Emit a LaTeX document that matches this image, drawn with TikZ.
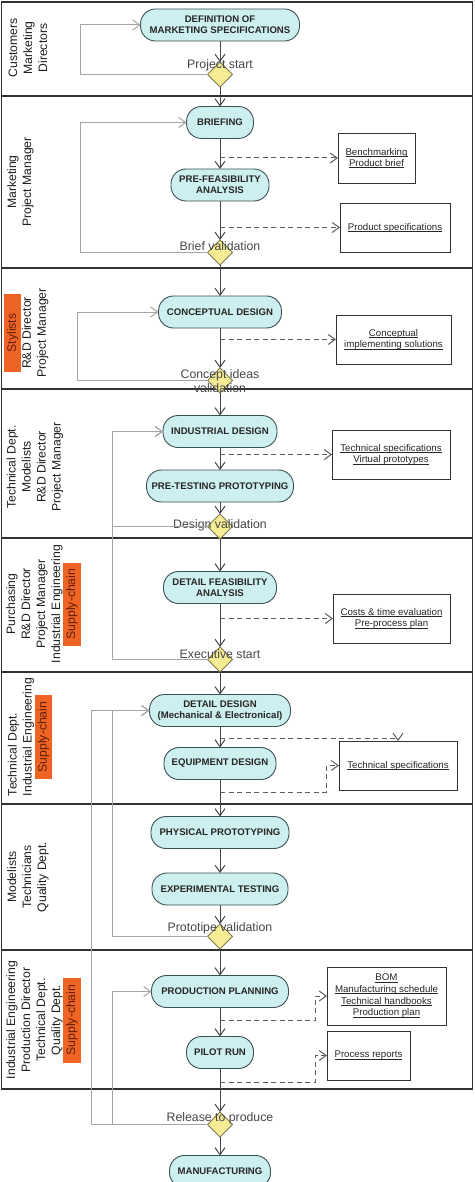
\documentclass[tikz,border=0pt]{standalone}
\usepackage{fontspec}
\setmainfont{Liberation Sans}
\usepackage{xcolor}
\usepackage{tikz}
\usetikzlibrary{shapes.geometric, arrows.meta, positioning}

\definecolor{actfill}{RGB}{206,239,240}
\definecolor{actline}{RGB}{60,82,82}
\definecolor{decfill}{RGB}{246,236,150}
\definecolor{decline}{RGB}{125,120,80}
\definecolor{hlorange}{RGB}{240,100,35}
\definecolor{hltext}{RGB}{95,30,10}
\definecolor{laneline}{RGB}{50,50,50}
\definecolor{flowgrey}{RGB}{70,70,70}
\definecolor{backgrey}{RGB}{165,165,165}
\definecolor{dashgrey}{RGB}{95,95,95}

\newcommand{\docline}[1]{\setbox0=\hbox{#1}\rlap{\rule[-1.4pt]{\wd0}{0.55pt}}\box0}
\newcommand{\hlrole}[2]{\smash{\colorbox{hlorange}{\makebox[#1]{\color{hltext}#2}}}\vphantom{Ag}}
\setlength{\fboxsep}{3pt}

\tikzstyle{activity} = [rectangle, rounded corners=15pt,
  minimum height=32pt, inner xsep=4pt, inner ysep=2pt, outer sep=0pt,
  align=center, draw=actline, line width=0.9pt, fill=actfill,
  text=black!85, font=\fontsize{9.6}{11}\selectfont\bfseries]
\tikzstyle{decision} = [diamond, minimum width=25pt, minimum height=25pt,
  inner sep=0pt, outer sep=0pt, draw=decline, line width=0.8pt, fill=decfill]
\tikzstyle{docbox} = [rectangle, draw=black!80, line width=0.8pt, outer sep=0pt,
  fill=white, align=center, text=black!85,
  font=\fontsize{9.7}{11.6}\selectfont]
\tikzstyle{flowarrow} = [draw=flowgrey, line width=1pt,
  -{Straight Barb[length=7pt,width=10pt]}]

\begin{document}

\begin{tikzpicture}[x=1pt, y=-1pt,
  lanetext/.style={rotate=90, align=center, inner sep=0pt,
    text=black!88, font=\fontsize{12.2}{15}\selectfont},
  declabel/.style={align=center, inner sep=0pt, text=black!72,
    font=\fontsize{12.3}{14}\selectfont},
  backflow/.style={draw=backgrey, line width=1pt,
    -{Straight Barb[length=7pt,width=10pt]}},
  docflow/.style={draw=dashgrey, line width=1pt, dash pattern=on 5pt off 3.5pt,
    -{Straight Barb[length=7pt,width=10pt]}}]

\fill[white] (0,0) rectangle (474,1182);
\useasboundingbox (0,0) rectangle (474,1182);

% swimlanes
\foreach \ytop/\ybot in {2/96, 96/268, 268/389, 389/538, 538/672, 672/804, 804/950, 950/1089}
  \draw[draw=laneline, line width=1.6pt] (1.5,\ytop) rectangle (472.5,\ybot);
\draw[draw=laneline, line width=2.6pt] (1.5,2) -- (472.5,2);

% lane headers
\node (hdcust) [lanetext] at (28,48) {Customers\\Marketing\\Directors};
\node (hdmkt) [lanetext] at (20.5,182) {Marketing\\Project Manager};
\node (hdconc) [lanetext] at (28,333)
  {\hlrole{72pt}{Stylists}\\R\&D Director\\Project Manager};
\node (hdind) [lanetext] at (35,467)
  {Technical Dept.\\Modelists\\R\&D Director\\Project Manager};
\node (hdfeas) [lanetext] at (42,604)
  {Purchasing\\R\&D Director\\Project Manager\\Industrial Engineering\\\hlrole{77pt}{Supply-chain}};
\node (hddet) [lanetext] at (28.5,737)
  {\rlap{Technical Dept.}\hphantom{Industrial Engineering}\\Industrial Engineering\\\hlrole{78pt}{Supply-chain}};
\node (hdproto) [lanetext] at (28,877) {Modelists\\Technicians\\Quality Dept.};
\node (hdprod) [lanetext] at (42,1020)
  {Industrial Engineering\\Production Director\\Technical Dept.\\Quality Dept.\\\hlrole{79pt}{Supply-chain}};

% activities and decisions
\node (def) [activity, minimum width=159pt] at (220,25)
  {DEFINITION OF\\MARKETING SPECIFICATIONS};
\node (pstart) [decision, below=21pt of def] {};
\node (brief) [activity, minimum width=67pt, below=19.5pt of pstart] {BRIEFING};
\node (prefeas) [activity, minimum width=98pt, below=30.5pt of brief]
  {PRE-FEASIBILITY\\ANALYSIS};
\node (bvalid) [decision, below=39pt of prefeas] {};
\node (concept) [activity, minimum width=123pt, below=31pt of bvalid]
  {CONCEPTUAL DESIGN};
\node (civalid) [decision, below=40pt of concept] {};
\node (indus) [activity, minimum width=114pt, below=22.5pt of civalid]
  {INDUSTRIAL DESIGN};
\node (pretest) [activity, minimum width=147pt, below=22.5pt of indus]
  {PRE-TESTING PROTOTYPING};
\node (dvalid) [decision, below=12pt of pretest] {};
\node (detfeas) [activity, minimum width=113pt, below=32.5pt of dvalid]
  {DETAIL FEASIBILITY\\ANALYSIS};
\node (exstart) [decision, below=43.5pt of detfeas] {};
\node (detdes) [activity, minimum width=141pt, below=22.5pt of exstart]
  {DETAIL DESIGN\\(Mechanical \& Electronical)};
\node (equip) [activity, minimum width=112pt, below=21pt of detdes]
  {EQUIPMENT DESIGN};
\node (physical) [activity, minimum width=138pt, below=37pt of equip]
  {PHYSICAL PROTOTYPING};
\node (exper) [activity, minimum width=136pt, below=24.5pt of physical]
  {EXPERIMENTAL TESTING};
\node (pvalid) [decision, below=19pt of exper] {};
\node (pplan) [activity, minimum width=137pt, below=26.5pt of pvalid]
  {PRODUCTION PLANNING};
\node (pilot) [activity, minimum width=67pt, below=29pt of pplan] {PILOT RUN};
\node (release) [decision, below=43.5pt of pilot] {};
\node (manuf) [activity, minimum width=101pt, below=18.5pt of release]
  {MANUFACTURING};

% decision labels
\node (lpstart) [declabel] at ([yshift=9pt]pstart.center) {Project start};
\node (lbvalid) [declabel] at ([yshift=6pt]bvalid.center) {Brief validation};
\node (lcivalid) [declabel] at ([yshift=-1pt]civalid.center) {Concept ideas\\validation};
\node (ldvalid) [declabel] at ([yshift=1pt]dvalid.center) {Design validation};
\node (lexstart) [declabel] at ([yshift=5pt]exstart.center) {Executive start};
\node (lpvalid) [declabel] at ([yshift=8pt]pvalid.center) {Prototipe validation};
\node (lrelease) [declabel] at ([yshift=6pt]release.center) {Release to produce};

% output documents
\node (bench) [docbox, minimum width=77pt, minimum height=50pt] at (376.5,158)
  {\docline{Benchmarking}\\\docline{Product brief}};
\node (prodspec) [docbox, minimum width=110pt, minimum height=49pt] at (395,227.5)
  {\docline{Product specifications}};
\node (concimp) [docbox, minimum width=115pt, minimum height=49pt] at (393.5,339.5)
  {\docline{Conceptual}\\\docline{implementing solutions}};
\node (techvirt) [docbox, minimum width=118pt, minimum height=49pt] at (391,454.5)
  {\docline{Technical specifications}\\\docline{Virtual prototypes}};
\node (costs) [docbox, minimum width=117pt, minimum height=49pt] at (391.5,618.5)
  {\docline{Costs \& time evaluation}\\\docline{Pre-process plan}};
\node (techspec) [docbox, minimum width=118pt, minimum height=49pt] at (398,765.5)
  {\docline{Technical specifications}};
\node (bom) [docbox, minimum width=119pt, minimum height=58pt] at (386.5,996)
  {\docline{BOM}\\\docline{Manufacturing schedule}\\\docline{Technical handbooks}\\\docline{Production plan}};
\node (procrep) [docbox, minimum width=83pt, minimum height=49pt] at (368.5,1055.5)
  {\docline{Process reports}};

% main flow
\draw [flowarrow] (def) -- (pstart);
\draw [flowarrow] (pstart) -- (brief);
\draw [flowarrow] (brief) -- (prefeas);
\draw [flowarrow] (prefeas) -- (bvalid);
\draw [flowarrow] (bvalid) -- (concept);
\draw [flowarrow] (concept) -- (civalid);
\draw [flowarrow] (civalid) -- (indus);
\draw [flowarrow] (indus) -- (pretest);
\draw [flowarrow] (pretest) -- (dvalid);
\draw [flowarrow] (dvalid) -- (detfeas);
\draw [flowarrow] (detfeas) -- (exstart);
\draw [flowarrow] (exstart) -- (detdes);
\draw [flowarrow] (detdes) -- (equip);
\draw [flowarrow] (equip) -- (physical);
\draw [flowarrow] (physical) -- (exper);
\draw [flowarrow] (exper) -- (pvalid);
\draw [flowarrow] (pvalid) -- (pplan);
\draw [flowarrow] (pplan) -- (pilot);
\draw [flowarrow] (pilot) -- (release);
\draw [flowarrow] (release) -- (manuf);

% rework loops
\draw [backflow] (pstart.west) -- ++(-127,0) |- (def.west);
\draw [backflow] (bvalid.west) -- ++(-127,0) |- (brief.west);
\draw [backflow] (civalid.west) -- ++(-130,0) |- (concept.west);
\draw [backflow] (dvalid.west) -- ++(-95,0) |- (indus.west);
\draw [backflow] (exstart.west) -- ++(-95,0) |- (indus.west);
\draw [backflow] (pvalid.west) -- ++(-95,0) |- (detdes.west);
\draw [backflow] (release.west) -- ++(-116,0) |- (detdes.west);
\draw [backflow] (release.west) -- ++(-95,0) |- (pplan.west);

% document outputs
\draw [docflow] (brief.south |- bench.west) -- (bench.west);
\draw [docflow] (prefeas.south |- prodspec.west) -- (prodspec.west);
\draw [docflow] (concept.south |- concimp.west) -- (concimp.west);
\draw [docflow] (indus.south |- techvirt.west) -- (techvirt.west);
\draw [docflow] (detfeas.south |- costs.west) -- (costs.west);
\draw [docflow] ([yshift=-11.5pt]detdes.south) -| (techspec.north);
\draw [docflow] ([yshift=-12.5pt]equip.south) -| ([xshift=-13pt]techspec.west) -- (techspec.west);
\draw [docflow] ([yshift=-12.5pt]pplan.south) -| ([xshift=-12pt]bom.west) -- (bom.west);
\draw [docflow] ([yshift=-13.5pt]pilot.south) -| ([xshift=-12pt]procrep.west) -- (procrep.west);

\end{tikzpicture}

\end{document}
